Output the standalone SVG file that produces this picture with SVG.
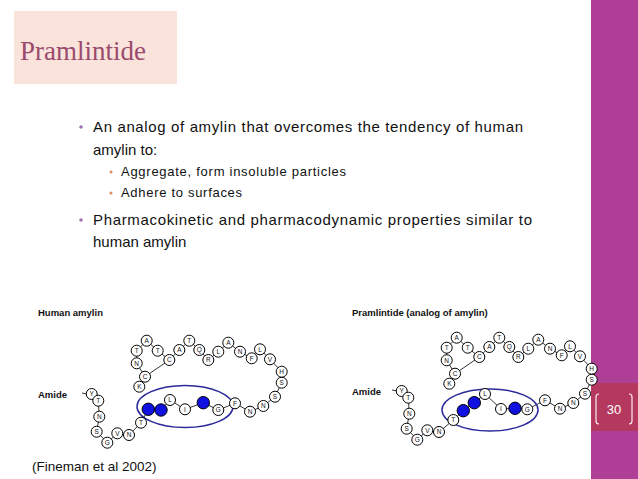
<svg xmlns="http://www.w3.org/2000/svg" width="638" height="479" viewBox="0 0 638 479">
<style>
.b{font-family:"Liberation Sans",Arial,sans-serif;font-size:15px;fill:#111}
.s{font-family:"Liberation Sans",Arial,sans-serif;font-size:13px;fill:#111}
.lb{font-family:"Liberation Sans",Arial,sans-serif;font-size:9.5px;font-weight:bold;fill:#111}
.r circle{fill:#fff;stroke:#000;stroke-width:1}
.r circle.bl{fill:#1010e0;stroke:#000}
.r text{font-family:"Liberation Sans",Arial,sans-serif;font-size:6.5px;fill:#111;text-anchor:middle}
.ch{fill:none;stroke:#000;stroke-width:0.8}
.el{fill:none;stroke:#2a2a9a;stroke-width:1.5}
</style>
<rect width="638" height="479" fill="#fff"/>
<rect x="591" y="0" width="47" height="479" fill="#ae3e96"/>
<rect x="591" y="383" width="47" height="48" fill="#b5395f"/>
<g fill="none" stroke="#fff" stroke-width="1.2" opacity="0.9">
<path d="M599,394 q-3,0 -3,3 v24 q0,3 3,3"/>
<path d="M629,394 q3,0 3,3 v24 q0,3 -3,3"/>
</g>
<text x="614" y="414" font-family="Liberation Sans,Arial,sans-serif" font-size="13" fill="#fff" text-anchor="middle">30</text>
<rect x="14" y="11" width="163" height="73" fill="#f9e3db"/>
<text x="20" y="60" font-family="Liberation Serif,serif" font-size="27" fill="#9b4a6e">Pramlintide</text>
<g id="bullets">
<circle cx="81" cy="127" r="1.8" fill="#a070b0"/>
<text class="b" x="93" y="132" textLength="430">An analog of amylin that overcomes the tendency of human</text>
<text class="b" x="93" y="155">amylin to:</text>
<circle cx="111" cy="172" r="1.5" fill="#e08a5a"/>
<text class="s" x="121" y="176" textLength="225">Aggregate, form insoluble particles</text>
<circle cx="111" cy="193" r="1.5" fill="#e08a5a"/>
<text class="s" x="121" y="197" textLength="121">Adhere to surfaces</text>
<circle cx="81" cy="220" r="1.8" fill="#a070b0"/>
<text class="b" x="93" y="225" textLength="439">Pharmacokinetic and pharmacodynamic properties similar to</text>
<text class="b" x="93" y="247">human amylin</text>
</g>
<text class="lb" x="38" y="316">Human amylin</text>
<text class="lb" x="352" y="316">Pramlintide (analog of amylin)</text>
<text class="lb" x="38" y="398">Amide</text>
<text class="lb" x="352" y="395">Amide</text>
<text x="32" y="471" font-family="Liberation Sans,Arial,sans-serif" font-size="13.5" fill="#111">(Fineman et al 2002)</text>

<g id="connectors">
<polyline class="ch" points="91.7,394 98.3,400.7 99.3,416.7 96.7,431.7 107.3,442.7 117.3,433.3 129,435 141,422.7 148.3,409.3 161,410 170,400 185,409.3 203.3,402.7 218.3,410 235,403.3 250,411.7 263.3,406 275,396.7 281.7,382.7 281.7,371.7 270,359.3 260,349.3 251.7,358.3 240,351.7 228.3,342.7 218.3,351.7 208.3,360 199.3,350 189.3,340.7 179.3,350 169.3,360 157.7,350.7 146.7,340.7 136.7,350.7 136.7,363.3 145,376.7 139.3,386.7"/>
<line class="ch" x1="169.3" y1="360" x2="145" y2="376.7"/>
<line class="ch" x1="82" y1="393" x2="87" y2="394"/>
<g transform="translate(310,-3)">
<polyline class="ch" points="91.7,394 98.3,400.7 99.3,416.7 96.7,431.7 107.3,442.7 117.3,433.3 129,435 143.3,423 153.3,413.7 164.3,405.7 175,397 191,412 205,411.3 217.3,412.3 235,403.3 250,411.7 263.3,406 275,396.7 281.7,382.7 281.7,371.7 270,359.3 260,349.3 251.7,358.3 240,351.7 228.3,342.7 218.3,351.7 208.3,360 199.3,350 189.3,340.7 179.3,350 169.3,360 157.7,350.7 146.7,340.7 136.7,350.7 136.7,363.3 145,376.7 139.3,386.7"/>
<line class="ch" x1="169.3" y1="360" x2="145" y2="376.7"/>
<line class="ch" x1="82" y1="393" x2="87" y2="394"/>
</g>
</g>

<g id="human" class="r">
<ellipse class="el" cx="185" cy="406.5" rx="48" ry="21"/>
<circle cx="91.7" cy="394" r="5.5"/><text x="91.7" y="396.3">Y</text>
<circle cx="98.3" cy="400.7" r="5.5"/><text x="98.3" y="403">T</text>
<circle cx="99.3" cy="416.7" r="5.5"/><text x="99.3" y="419">N</text>
<circle cx="96.7" cy="431.7" r="5.5"/><text x="96.7" y="434">S</text>
<circle cx="107.3" cy="442.7" r="5.5"/><text x="107.3" y="445">G</text>
<circle cx="117.3" cy="433.3" r="5.5"/><text x="117.3" y="435.6">V</text>
<circle cx="129" cy="435" r="5.5"/><text x="129" y="437.3">N</text>
<circle cx="141" cy="422.7" r="5.5"/><text x="141" y="425">T</text>
<circle class="bl" cx="148.3" cy="409.3" r="6.2"/>
<circle class="bl" cx="161" cy="410" r="6.2"/>
<circle cx="170" cy="400" r="5.5"/><text x="170" y="402.3">L</text>
<circle cx="185" cy="409.3" r="5.5"/><text x="185" y="411.6">I</text>
<circle class="bl" cx="203.3" cy="402.7" r="6.2"/>
<circle cx="218.3" cy="410" r="5.5"/><text x="218.3" y="412.3">G</text>
<circle cx="235" cy="403.3" r="5.5"/><text x="235" y="405.6">F</text>
<circle cx="250" cy="411.7" r="5.5"/><text x="250" y="414">N</text>
<circle cx="263.3" cy="406" r="5.5"/><text x="263.3" y="408.3">N</text>
<circle cx="275" cy="396.7" r="5.5"/><text x="275" y="399">S</text>
<circle cx="281.7" cy="382.7" r="5.5"/><text x="281.7" y="385">S</text>
<circle cx="281.7" cy="371.7" r="5.5"/><text x="281.7" y="374">H</text>
<circle cx="270" cy="359.3" r="5.5"/><text x="270" y="361.6">V</text>
<circle cx="260" cy="349.3" r="5.5"/><text x="260" y="351.6">L</text>
<circle cx="251.7" cy="358.3" r="5.5"/><text x="251.7" y="360.6">F</text>
<circle cx="240" cy="351.7" r="5.5"/><text x="240" y="354">N</text>
<circle cx="228.3" cy="342.7" r="5.5"/><text x="228.3" y="345">A</text>
<circle cx="218.3" cy="351.7" r="5.5"/><text x="218.3" y="354">L</text>
<circle cx="208.3" cy="360" r="5.5"/><text x="208.3" y="362.3">R</text>
<circle cx="199.3" cy="350" r="5.5"/><text x="199.3" y="352.3">Q</text>
<circle cx="189.3" cy="340.7" r="5.5"/><text x="189.3" y="343">T</text>
<circle cx="179.3" cy="350" r="5.5"/><text x="179.3" y="352.3">A</text>
<circle cx="169.3" cy="360" r="5.5"/><text x="169.3" y="362.3">C</text>
<circle cx="157.7" cy="350.7" r="5.5"/><text x="157.7" y="353">T</text>
<circle cx="146.7" cy="340.7" r="5.5"/><text x="146.7" y="343">A</text>
<circle cx="136.7" cy="350.7" r="5.5"/><text x="136.7" y="353">T</text>
<circle cx="136.7" cy="363.3" r="5.5"/><text x="136.7" y="365.6">N</text>
<circle cx="145" cy="376.7" r="5.5"/><text x="145" y="379">C</text>
<circle cx="139.3" cy="386.7" r="5.5"/><text x="139.3" y="389">K</text>
</g>

<g id="pramlintide" class="r" transform="translate(310,-3)">
<ellipse class="el" cx="180" cy="413" rx="48" ry="21"/>
<circle cx="91.7" cy="394" r="5.5"/><text x="91.7" y="396.3">Y</text>
<circle cx="98.3" cy="400.7" r="5.5"/><text x="98.3" y="403">T</text>
<circle cx="99.3" cy="416.7" r="5.5"/><text x="99.3" y="419">N</text>
<circle cx="96.7" cy="431.7" r="5.5"/><text x="96.7" y="434">S</text>
<circle cx="107.3" cy="442.7" r="5.5"/><text x="107.3" y="445">G</text>
<circle cx="117.3" cy="433.3" r="5.5"/><text x="117.3" y="435.6">V</text>
<circle cx="129" cy="435" r="5.5"/><text x="129" y="437.3">N</text>
<circle cx="143.3" cy="423" r="5.5"/><text x="143.3" y="425.3">T</text>
<circle class="bl" cx="153.3" cy="413.7" r="6.2"/>
<circle class="bl" cx="164.3" cy="405.7" r="6.2"/>
<circle cx="175" cy="397" r="5.5"/><text x="175" y="399.3">L</text>
<circle cx="191" cy="412" r="5.5"/><text x="191" y="414.3">I</text>
<circle class="bl" cx="205" cy="411.3" r="6.2"/>
<circle cx="217.3" cy="412.3" r="5.5"/><text x="217.3" y="414.6">G</text>
<circle cx="235" cy="403.3" r="5.5"/><text x="235" y="405.6">F</text>
<circle cx="250" cy="411.7" r="5.5"/><text x="250" y="414">N</text>
<circle cx="263.3" cy="406" r="5.5"/><text x="263.3" y="408.3">N</text>
<circle cx="275" cy="396.7" r="5.5"/><text x="275" y="399">S</text>
<circle cx="281.7" cy="382.7" r="5.5"/><text x="281.7" y="385">S</text>
<circle cx="281.7" cy="371.7" r="5.5"/><text x="281.7" y="374">H</text>
<circle cx="270" cy="359.3" r="5.5"/><text x="270" y="361.6">V</text>
<circle cx="260" cy="349.3" r="5.5"/><text x="260" y="351.6">L</text>
<circle cx="251.7" cy="358.3" r="5.5"/><text x="251.7" y="360.6">F</text>
<circle cx="240" cy="351.7" r="5.5"/><text x="240" y="354">N</text>
<circle cx="228.3" cy="342.7" r="5.5"/><text x="228.3" y="345">A</text>
<circle cx="218.3" cy="351.7" r="5.5"/><text x="218.3" y="354">L</text>
<circle cx="208.3" cy="360" r="5.5"/><text x="208.3" y="362.3">R</text>
<circle cx="199.3" cy="350" r="5.5"/><text x="199.3" y="352.3">Q</text>
<circle cx="189.3" cy="340.7" r="5.5"/><text x="189.3" y="343">T</text>
<circle cx="179.3" cy="350" r="5.5"/><text x="179.3" y="352.3">A</text>
<circle cx="169.3" cy="360" r="5.5"/><text x="169.3" y="362.3">C</text>
<circle cx="157.7" cy="350.7" r="5.5"/><text x="157.7" y="353">T</text>
<circle cx="146.7" cy="340.7" r="5.5"/><text x="146.7" y="343">A</text>
<circle cx="136.7" cy="350.7" r="5.5"/><text x="136.7" y="353">T</text>
<circle cx="136.7" cy="363.3" r="5.5"/><text x="136.7" y="365.6">N</text>
<circle cx="145" cy="376.7" r="5.5"/><text x="145" y="379">C</text>
<circle cx="139.3" cy="386.7" r="5.5"/><text x="139.3" y="389">K</text>
</g>
</svg>
